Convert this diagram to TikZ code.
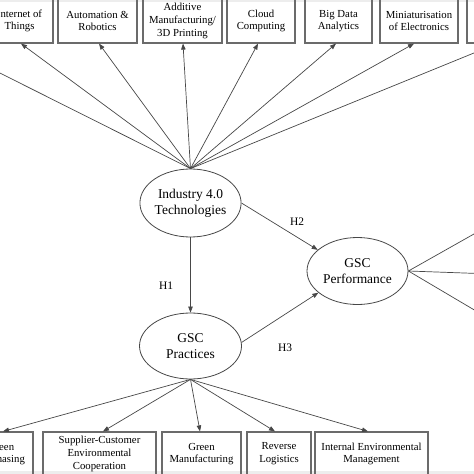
\documentclass[tikz,border=0pt]{standalone}
\usepackage{fontspec}
\setmainfont{Liberation Serif}
\usetikzlibrary{arrows.meta,shapes.geometric}
\begin{document}
\begin{tikzpicture}[x=1bp,y=-1bp,
  conn/.style={draw=black!72, line width=0.7bp},
  arr/.style={conn,-{Triangle[length=6bp,width=4.5bp]}},
  boxbase/.style={rectangle, draw=black!58, line width=1.2bp, inner sep=0pt, align=center,
    font=\fontsize{10.8}{12.8}\selectfont},
  boxtop/.style={boxbase, minimum height=44bp},
  boxbot/.style={boxbase, minimum height=44bp},
  latent/.style={ellipse, draw=black!72, line width=0.8bp, inner sep=0pt, align=center,
    font=\fontsize{13.5}{16}\selectfont},
  hlab/.style={font=\fontsize{11.5}{13}\selectfont}]
\useasboundingbox (0,0) rectangle (474,474);
\clip (0,0) rectangle (474,474);
\fill[gray!14] (0,0) rectangle (474,2.2);
\fill[gray!14] (0,471) rectangle (474,474);

% top boxes
\node[boxtop, minimum width=67bp] (iot) at (19.5,21) {Internet of\\Things};
\node[boxtop, minimum width=79bp] (aut) at (97.5,21) {Automation \&\\Robotics};
\node[boxtop, minimum width=79bp] (add) at (182.5,21) {Additive\\Manufacturing/\\3D Printing};
\node[boxtop, minimum width=68bp] (cld) at (261,21) {Cloud\\Computing};
\node[boxtop, minimum width=67bp] (bda) at (338.5,21) {Big Data\\Analytics};
\node[boxtop, minimum width=78bp] (min) at (419,21) {Miniaturisation\\of Electronics};
\node[boxtop, minimum width=78bp] (sev) at (506,21) {};
\coordinate (zer) at (-56,45);

% latent variables
\node[latent, minimum width=100bp, minimum height=68bp] (ind) at (190.5,203) {Industry 4.0\\Technologies};
\node[latent, minimum width=101bp, minimum height=67bp] (perf) at (357.5,271) {GSC\\Performance};
\node[latent, minimum width=102bp, minimum height=66bp] (prac) at (190.5,346) {GSC\\Practices};

% bottom boxes
\node[boxbot, minimum width=64bp] (gp) at (1,454) {Green\\Purchasing};
\node[boxbot, minimum width=113bp] (sup) at (99.5,454) {Supplier-Customer\\Environmental\\Cooperation};
\node[boxbot, minimum width=79bp] (gm) at (201.5,454) {Green\\Manufacturing};
\node[boxbot, minimum width=64bp] (rev) at (279,454) {Reverse\\Logistics};
\node[boxbot, minimum width=113bp] (iem) at (371.5,454) {Internal Environmental\\Management};

% right-hand outgoing connectors
\coordinate (r1) at (520,208);
\coordinate (r2) at (520,275);
\coordinate (r3) at (520,337);

% arrows to top boxes
\draw[arr] (ind.north) -- (zer);
\draw[arr] (ind.north) -- ([xshift=1.5bp]iot.south);
\draw[arr] (ind.north) -- ([xshift=1.5bp]aut.south);
\draw[arr] (ind.north) -- ([xshift=0.5bp]add.south);
\draw[arr] (ind.north) -- ([xshift=-3bp]cld.south);
\draw[arr] (ind.north) -- ([xshift=-2.5bp]bda.south);
\draw[arr] (ind.north) -- ([xshift=-5bp]min.south);
\draw[arr] (ind.north) -- ([xshift=-9bp]sev.south);

% structural paths
\draw[arr] (ind.south) -- (prac.north);
\draw[arr] (ind.east) -- (perf.152);
\draw[arr] (prac.4) -- (perf.209);

% performance indicators
\draw[arr] (perf.east) -- (r1);
\draw[arr] (perf.east) -- (r2);
\draw[arr] (perf.east) -- (r3);

% arrows to bottom boxes
\draw[arr] (prac.south) -- ([xshift=2bp]gp.north);
\draw[arr] (prac.south) -- ([xshift=3.5bp]sup.north);
\draw[arr] (prac.south) -- ([xshift=-1.5bp]gm.north);
\draw[arr] (prac.south) -- ([xshift=-4bp]rev.north);
\draw[arr] (prac.south) -- ([xshift=-3.5bp]iem.north);

% labels
\node[hlab] (h1) at (166,286) {H1};
\node[hlab] (h2) at (297,222) {H2};
\node[hlab] (h3) at (285,348) {H3};
\end{tikzpicture}
\end{document}
